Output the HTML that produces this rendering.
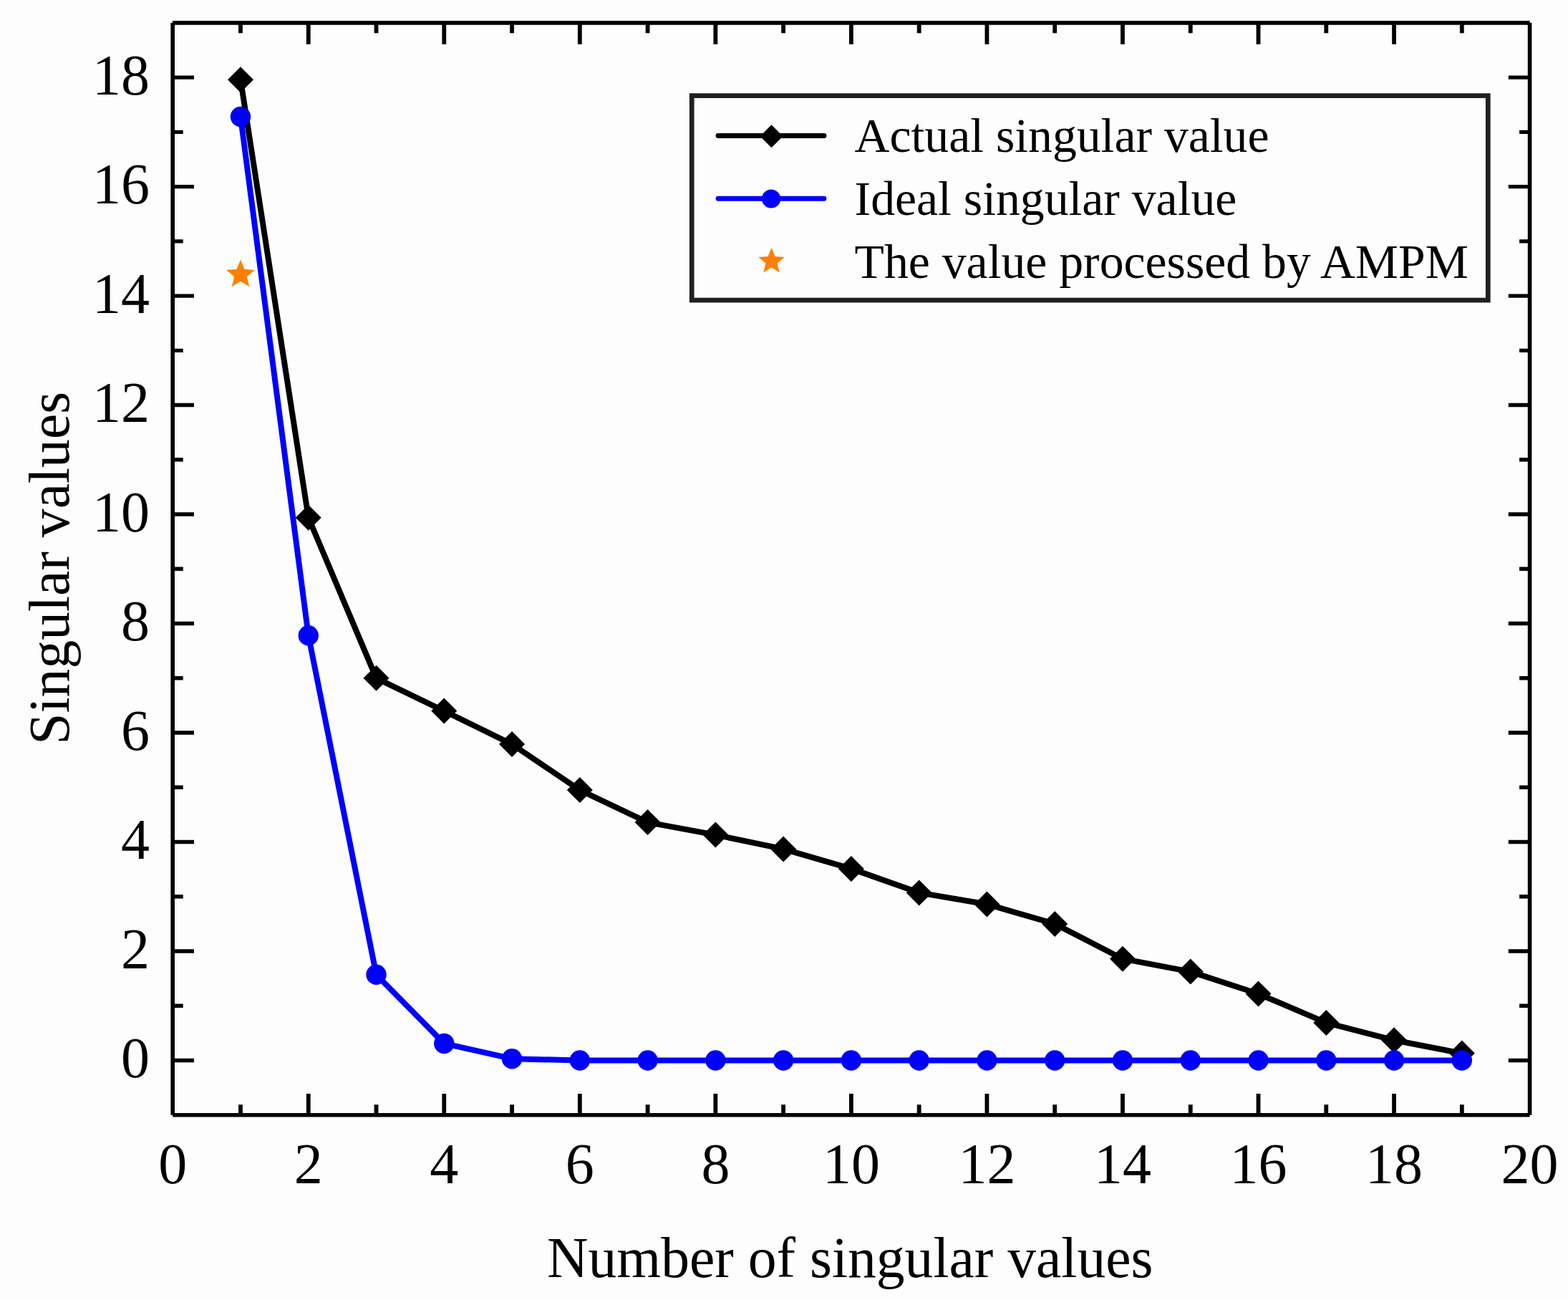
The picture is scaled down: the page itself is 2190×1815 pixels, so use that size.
<!DOCTYPE html>
<html><head><meta charset="utf-8"><title>Singular values</title>
<style>html,body{margin:0;padding:0;background:#fdfdfd;}body{width:2190px;height:1815px;overflow:hidden;}svg{display:block;}</style>
</head><body>
<svg width="2190" height="1815" viewBox="0 0 2190 1815">
<rect x="0" y="0" width="2190" height="1815" fill="#fdfdfd"/>
<path d="M335.97 1556.74V1542.24M335.97 31.86V46.36M430.74 1556.74V1526.94M430.74 31.86V61.66M525.51 1556.74V1542.24M525.51 31.86V46.36M620.28 1556.74V1526.94M620.28 31.86V61.66M715.05 1556.74V1542.24M715.05 31.86V46.36M809.82 1556.74V1526.94M809.82 31.86V61.66M904.59 1556.74V1542.24M904.59 31.86V46.36M999.36 1556.74V1526.94M999.36 31.86V61.66M1094.13 1556.74V1542.24M1094.13 31.86V46.36M1188.90 1556.74V1526.94M1188.90 31.86V61.66M1283.67 1556.74V1542.24M1283.67 31.86V46.36M1378.44 1556.74V1526.94M1378.44 31.86V61.66M1473.21 1556.74V1542.24M1473.21 31.86V46.36M1567.98 1556.74V1526.94M1567.98 31.86V61.66M1662.75 1556.74V1542.24M1662.75 31.86V46.36M1757.52 1556.74V1526.94M1757.52 31.86V61.66M1852.29 1556.74V1542.24M1852.29 31.86V46.36M1947.06 1556.74V1526.94M1947.06 31.86V61.66M2041.83 1556.74V1542.24M2041.83 31.86V46.36" stroke="#000" stroke-width="5.8" fill="none"/>
<path d="M241.20 1480.50H271.00M2136.60 1480.50H2106.80M241.20 1404.26H255.70M2136.60 1404.26H2122.10M241.20 1328.01H271.00M2136.60 1328.01H2106.80M241.20 1251.77H255.70M2136.60 1251.77H2122.10M241.20 1175.52H271.00M2136.60 1175.52H2106.80M241.20 1099.28H255.70M2136.60 1099.28H2122.10M241.20 1023.04H271.00M2136.60 1023.04H2106.80M241.20 946.79H255.70M2136.60 946.79H2122.10M241.20 870.55H271.00M2136.60 870.55H2106.80M241.20 794.30H255.70M2136.60 794.30H2122.10M241.20 718.06H271.00M2136.60 718.06H2106.80M241.20 641.82H255.70M2136.60 641.82H2122.10M241.20 565.57H271.00M2136.60 565.57H2106.80M241.20 489.33H255.70M2136.60 489.33H2122.10M241.20 413.08H271.00M2136.60 413.08H2106.80M241.20 336.84H255.70M2136.60 336.84H2122.10M241.20 260.60H271.00M2136.60 260.60H2106.80M241.20 184.35H255.70M2136.60 184.35H2122.10M241.20 108.11H271.00M2136.60 108.11H2106.80" stroke="#000" stroke-width="5.4" fill="none"/>
<path d="M241.20 1556.74H2136.60M241.20 31.86H2136.60M241.20 31.86V1556.74M2136.60 31.86V1556.74" stroke="#000" stroke-width="5.6" fill="none" stroke-linecap="butt"/>
<g font-family="Liberation Serif, Times New Roman, serif" font-size="80" fill="#000" text-anchor="middle">
<text x="241.2" y="1652">0</text>
<text x="430.7" y="1652">2</text>
<text x="620.3" y="1652">4</text>
<text x="809.8" y="1652">6</text>
<text x="999.4" y="1652">8</text>
<text x="1188.9" y="1652">10</text>
<text x="1378.4" y="1652">12</text>
<text x="1568.0" y="1652">14</text>
<text x="1757.5" y="1652">16</text>
<text x="1947.1" y="1652">18</text>
<text x="2136.6" y="1652">20</text>
</g>
<g font-family="Liberation Serif, Times New Roman, serif" font-size="80" fill="#000" text-anchor="end">
<text x="209" y="1504.3">0</text>
<text x="209" y="1351.8">2</text>
<text x="209" y="1199.3">4</text>
<text x="209" y="1046.8">6</text>
<text x="209" y="894.3">8</text>
<text x="209" y="741.9">10</text>
<text x="209" y="589.4">12</text>
<text x="209" y="436.9">14</text>
<text x="209" y="284.4">16</text>
<text x="209" y="131.9">18</text>
</g>
<text font-family="Liberation Serif, Times New Roman, serif" font-size="79.6" x="1187.3" y="1783" text-anchor="middle">Number of singular values</text>
<text font-family="Liberation Serif, Times New Roman, serif" font-size="79.6" transform="translate(96.3 793.3) rotate(-90)" text-anchor="middle">Singular values</text>
<polyline points="335.97,111.16 430.74,722.63 525.51,946.79 620.28,992.54 715.05,1039.05 809.82,1103.09 904.59,1148.08 999.36,1165.61 1094.13,1185.44 1188.90,1212.88 1283.67,1246.43 1378.44,1262.44 1473.21,1289.89 1567.98,1338.69 1662.75,1356.60 1757.52,1387.48 1852.29,1427.89 1947.06,1452.29 2041.83,1470.59" fill="none" stroke="#000" stroke-width="8" stroke-linejoin="round"/>
<path d="M335.97 93.16L353.97 111.16L335.97 129.16L317.97 111.16ZM430.74 704.63L448.74 722.63L430.74 740.63L412.74 722.63ZM525.51 928.79L543.51 946.79L525.51 964.79L507.51 946.79ZM620.28 974.54L638.28 992.54L620.28 1010.54L602.28 992.54ZM715.05 1021.05L733.05 1039.05L715.05 1057.05L697.05 1039.05ZM809.82 1085.09L827.82 1103.09L809.82 1121.09L791.82 1103.09ZM904.59 1130.08L922.59 1148.08L904.59 1166.08L886.59 1148.08ZM999.36 1147.61L1017.36 1165.61L999.36 1183.61L981.36 1165.61ZM1094.13 1167.44L1112.13 1185.44L1094.13 1203.44L1076.13 1185.44ZM1188.90 1194.88L1206.90 1212.88L1188.90 1230.88L1170.90 1212.88ZM1283.67 1228.43L1301.67 1246.43L1283.67 1264.43L1265.67 1246.43ZM1378.44 1244.44L1396.44 1262.44L1378.44 1280.44L1360.44 1262.44ZM1473.21 1271.89L1491.21 1289.89L1473.21 1307.89L1455.21 1289.89ZM1567.98 1320.69L1585.98 1338.69L1567.98 1356.69L1549.98 1338.69ZM1662.75 1338.60L1680.75 1356.60L1662.75 1374.60L1644.75 1356.60ZM1757.52 1369.48L1775.52 1387.48L1757.52 1405.48L1739.52 1387.48ZM1852.29 1409.89L1870.29 1427.89L1852.29 1445.89L1834.29 1427.89ZM1947.06 1434.29L1965.06 1452.29L1947.06 1470.29L1929.06 1452.29ZM2041.83 1452.59L2059.83 1470.59L2041.83 1488.59L2023.83 1470.59Z" fill="#000"/>
<polyline points="335.97,163.00 430.74,887.32 525.51,1360.80 620.28,1456.86 715.05,1478.21 809.82,1480.50 904.59,1480.50 999.36,1480.50 1094.13,1480.50 1188.90,1480.50 1283.67,1480.50 1378.44,1480.50 1473.21,1480.50 1567.98,1480.50 1662.75,1480.50 1757.52,1480.50 1852.29,1480.50 1947.06,1480.50 2041.83,1480.50" fill="none" stroke="#0000ff" stroke-width="8" stroke-linejoin="round"/>
<g fill="#0000ff"><circle cx="335.97" cy="163.00" r="14.2"/><circle cx="430.74" cy="887.32" r="14.2"/><circle cx="525.51" cy="1360.80" r="14.2"/><circle cx="620.28" cy="1456.86" r="14.2"/><circle cx="715.05" cy="1478.21" r="14.2"/><circle cx="809.82" cy="1480.50" r="14.2"/><circle cx="904.59" cy="1480.50" r="14.2"/><circle cx="999.36" cy="1480.50" r="14.2"/><circle cx="1094.13" cy="1480.50" r="14.2"/><circle cx="1188.90" cy="1480.50" r="14.2"/><circle cx="1283.67" cy="1480.50" r="14.2"/><circle cx="1378.44" cy="1480.50" r="14.2"/><circle cx="1473.21" cy="1480.50" r="14.2"/><circle cx="1567.98" cy="1480.50" r="14.2"/><circle cx="1662.75" cy="1480.50" r="14.2"/><circle cx="1757.52" cy="1480.50" r="14.2"/><circle cx="1852.29" cy="1480.50" r="14.2"/><circle cx="1947.06" cy="1480.50" r="14.2"/><circle cx="2041.83" cy="1480.50" r="14.2"/></g>
<polygon points="335.97,362.40 341.44,375.83 355.89,376.88 344.81,386.22 348.28,400.30 335.97,392.65 323.66,400.30 327.13,386.22 316.05,376.88 330.50,375.83" fill="#ff8000"/>
<rect x="966.25" y="133.6" width="1112.05" height="285.5" fill="none" stroke="#202020" stroke-width="6.7"/>
<line x1="1003" y1="189.5" x2="1151" y2="189.5" stroke="#000" stroke-width="6.8" stroke-linecap="round"/>
<path d="M1077.50 174.20L1093.50 190.20L1077.50 206.20L1061.50 190.20Z" fill="#000"/>
<line x1="1003" y1="277.25" x2="1151" y2="277.25" stroke="#0000ff" stroke-width="6.8" stroke-linecap="round"/>
<circle cx="1077.1" cy="277.5" r="13.1" fill="#0000ff"/>
<polygon points="1077.50,345.70 1082.47,358.07 1095.76,358.97 1085.53,367.51 1088.79,380.43 1077.50,373.35 1066.21,380.43 1069.47,367.51 1059.24,358.97 1072.53,358.07" fill="#ff8000"/>
<g font-family="Liberation Serif, Times New Roman, serif" font-size="67.7" fill="#000">
<text x="1193.6" y="212.3">Actual singular value</text>
<text x="1193.6" y="300.4">Ideal singular value</text>
<text x="1193.6" y="387.6">The value processed by AMPM</text>
</g>
</svg>
</body></html>
